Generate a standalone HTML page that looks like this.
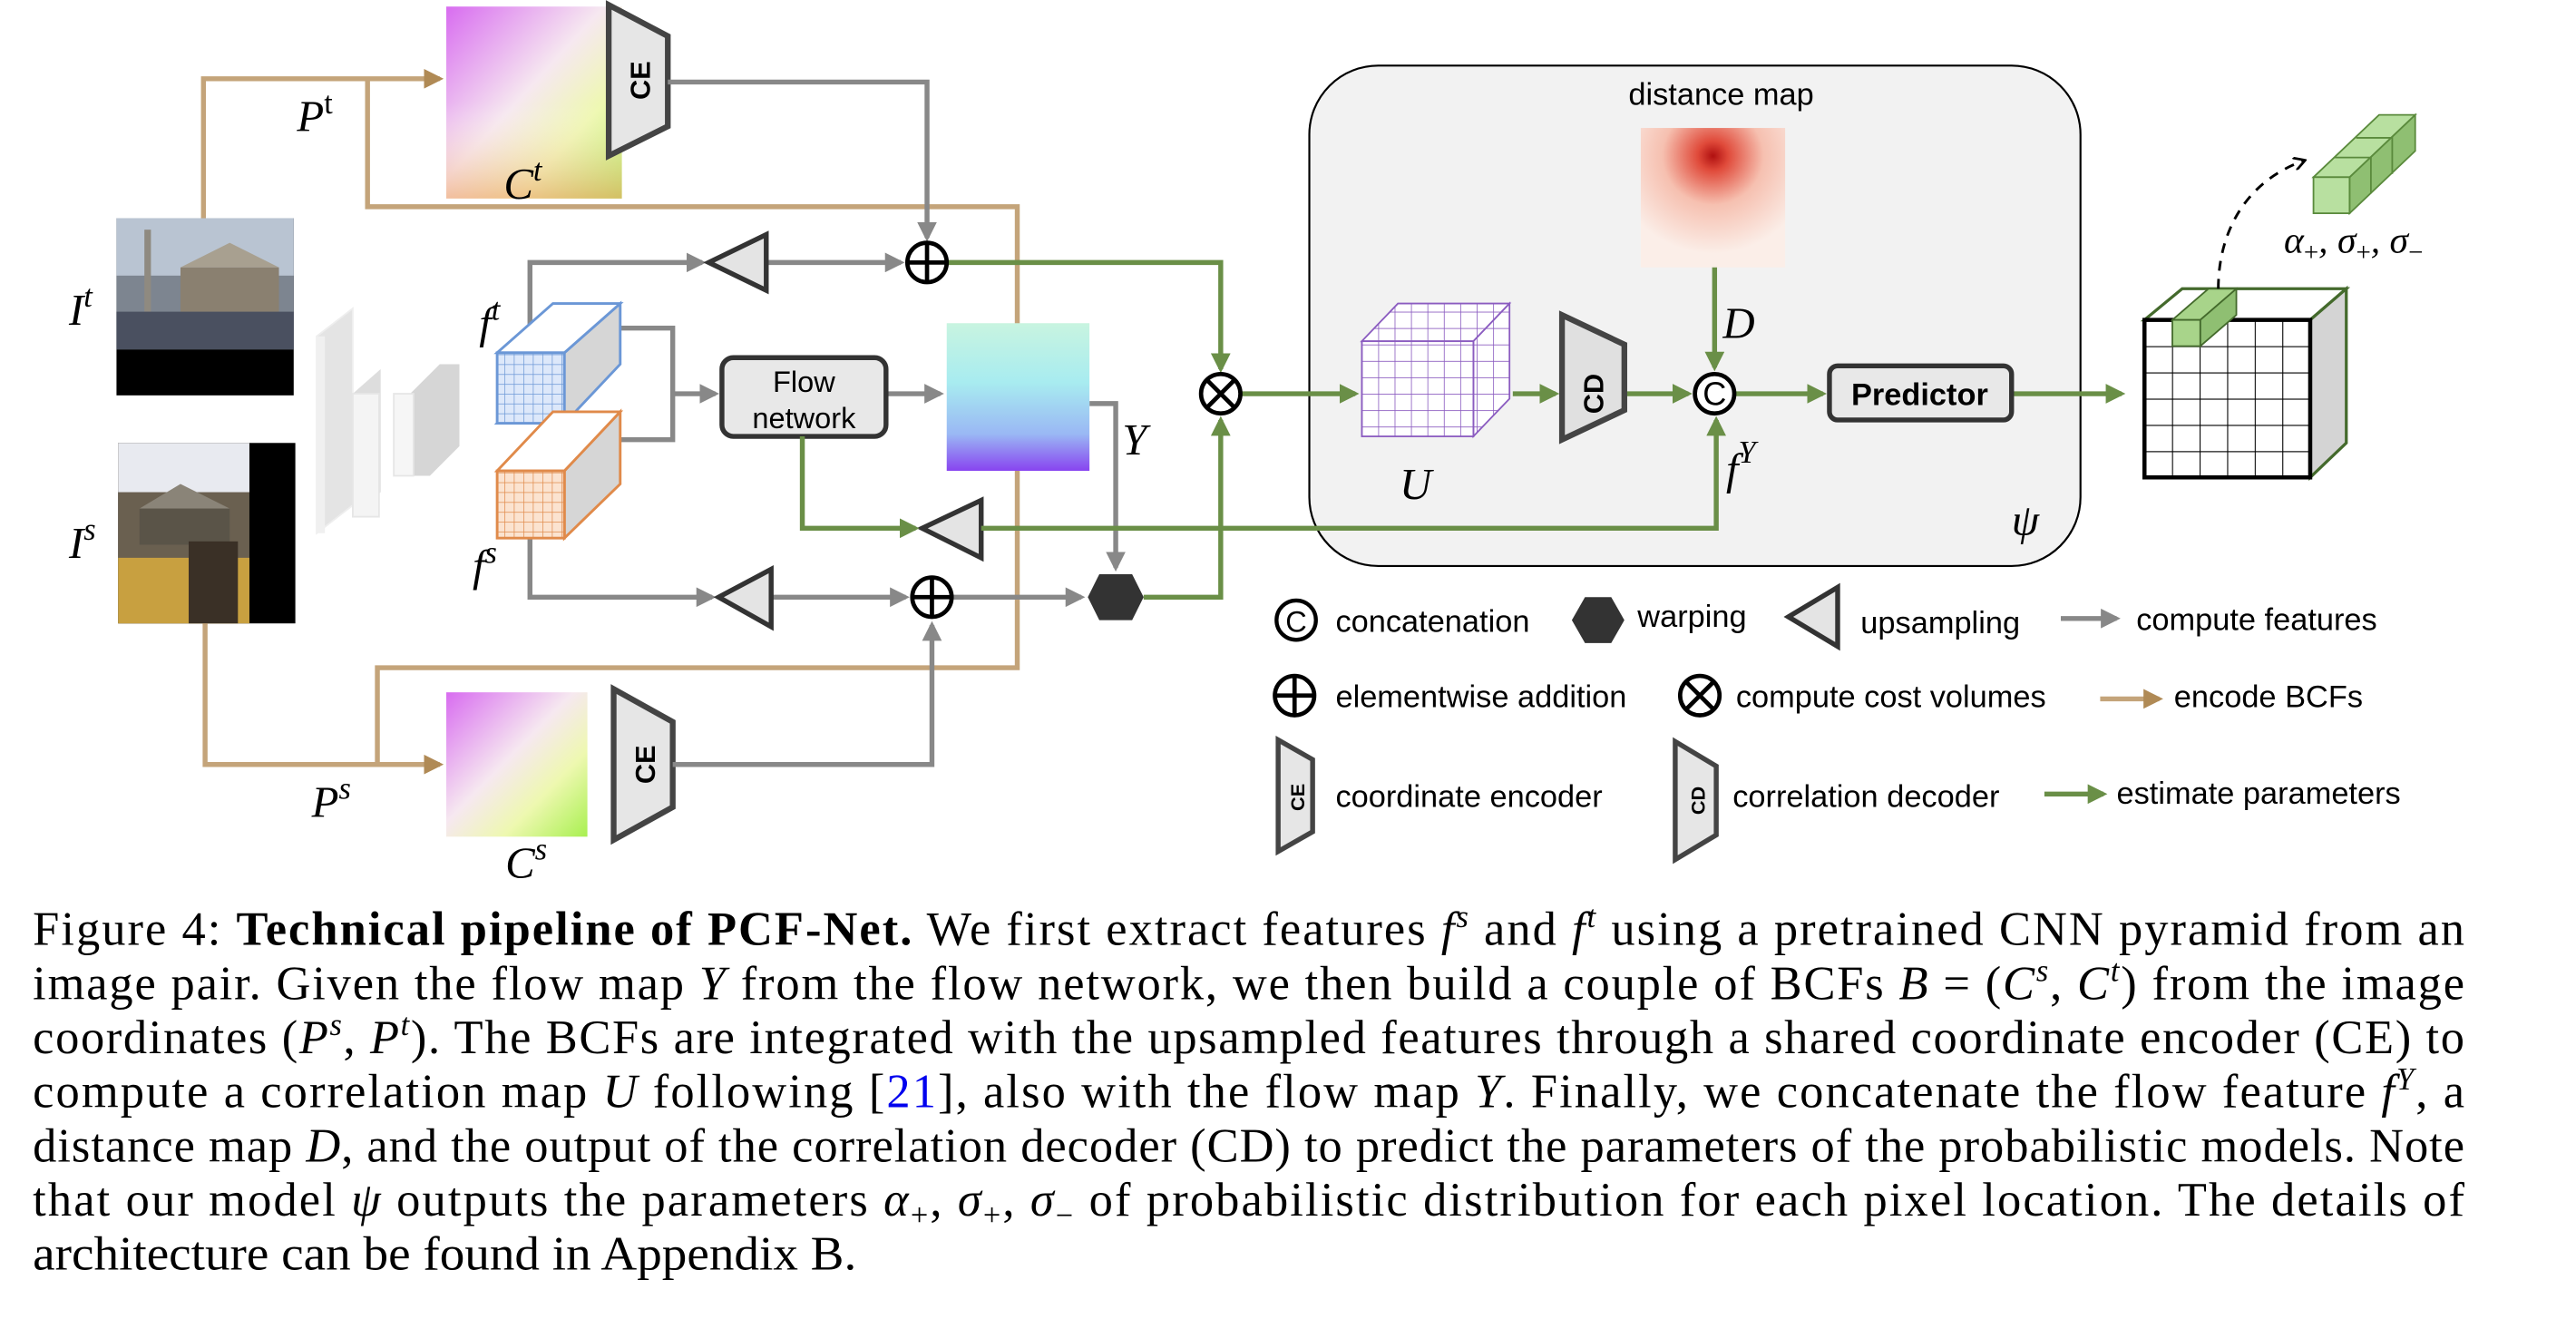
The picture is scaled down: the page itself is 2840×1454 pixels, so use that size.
<!DOCTYPE html>
<html><head><meta charset="utf-8"><style>
html,body{margin:0;padding:0;background:#fff;}
svg{display:block;}
.s{font-family:"Liberation Sans",sans-serif;}
.m{font-family:"Liberation Serif",serif;font-style:italic;}
.cap{font-family:"Liberation Serif",serif;font-size:29px;fill:#000;}
</style></head><body>
<svg width="2840" height="1454" viewBox="0 0 1570 804" preserveAspectRatio="none" xmlns="http://www.w3.org/2000/svg">
<defs>
<marker id="ag" markerWidth="4" markerHeight="4" refX="3.2" refY="2" orient="auto" markerUnits="strokeWidth"><path d="M0,0 L4,2 L0,4 z" fill="#888"/></marker>
<marker id="agr" markerWidth="4" markerHeight="4" refX="3.2" refY="2" orient="auto" markerUnits="strokeWidth"><path d="M0,0 L4,2 L0,4 z" fill="#6a8f47"/></marker>
<marker id="ab" markerWidth="4" markerHeight="4" refX="3.2" refY="2" orient="auto" markerUnits="strokeWidth"><path d="M0,0 L4,2 L0,4 z" fill="#b08a55"/></marker>
<marker id="ak" markerWidth="8" markerHeight="8" refX="6" refY="4" orient="auto" markerUnits="userSpaceOnUse"><path d="M0,0 L7,4 L0,8" fill="none" stroke="#000" stroke-width="1.5"/></marker>
<linearGradient id="gc1" x1="0" y1="0" x2="1" y2="1"><stop offset="0" stop-color="#d86cf0"/><stop offset="0.45" stop-color="#f6e8f0"/><stop offset="0.7" stop-color="#eef8b0"/><stop offset="1" stop-color="#a8f050"/></linearGradient>
<linearGradient id="gc1b" x1="0" y1="1" x2="0" y2="0"><stop offset="0" stop-color="#f0a070" stop-opacity="0.6"/><stop offset="0.5" stop-color="#fff" stop-opacity="0"/></linearGradient>
<linearGradient id="gf" x1="0" y1="0" x2="0" y2="1"><stop offset="0" stop-color="#c8f4e0"/><stop offset="0.4" stop-color="#a8ecf0"/><stop offset="0.75" stop-color="#9ab8f4"/><stop offset="1" stop-color="#8844f0"/></linearGradient>
<radialGradient id="gd" cx="0.5" cy="0.2" r="0.7"><stop offset="0" stop-color="#b01010"/><stop offset="0.15" stop-color="#e04a3a"/><stop offset="0.5" stop-color="#f6c0b0"/><stop offset="1" stop-color="#fbeee8"/></radialGradient>
<pattern id="pb" width="5.8" height="6" patternUnits="userSpaceOnUse"><rect width="5.8" height="6" fill="#dde8fa"/><path d="M0,0 H5.8 M0,0 V6" stroke="#6b97d6" stroke-width="0.8"/></pattern>
<pattern id="po" width="5.8" height="6" patternUnits="userSpaceOnUse"><rect width="5.8" height="6" fill="#fbe3d0"/><path d="M0,0 H5.8 M0,0 V6" stroke="#e08a4a" stroke-width="0.8"/></pattern>
<pattern id="pu" width="10" height="10" patternUnits="userSpaceOnUse"><rect width="10" height="10" fill="#fff"/><path d="M0,0 H10 M0,0 V10" stroke="#8b5cc0" stroke-width="0.9"/></pattern>
<pattern id="pk" width="16.8" height="16" patternUnits="userSpaceOnUse" x="1307" y="195"><rect width="16.8" height="16" fill="#fff"/><path d="M0,0 H16.8 M0,0 V16" stroke="#000" stroke-width="1.2"/></pattern>
</defs>

<!-- images -->
<rect x="71" y="133" width="108" height="108" fill="#000"/>
<rect x="71" y="133" width="108" height="80" fill="#7d8590"/>
<rect x="71" y="133" width="108" height="35" fill="#b9c4d2"/>
<polygon points="110,163 140,148 170,163" fill="#a8a090"/>
<rect x="110" y="163" width="60" height="28" fill="#8a8070"/>
<rect x="88" y="140" width="4" height="50" fill="#8f8a80"/>
<rect x="71" y="190" width="108" height="23" fill="#4a5060"/>
<rect x="72" y="270" width="108" height="110" fill="#000"/>
<rect x="72" y="270" width="80" height="110" fill="#6a6050"/>
<rect x="72" y="270" width="80" height="30" fill="#e8eaf0"/>
<polygon points="85,310 110,295 140,310" fill="#8a8478"/>
<rect x="85" y="310" width="55" height="22" fill="#5a5448"/>
<rect x="72" y="340" width="80" height="40" fill="#c8a040"/>
<rect x="115" y="330" width="30" height="50" fill="#3a3026"/>

<!-- CNN pyramid -->
<polygon points="193,205 215,188 215,308 193,325" fill="#e4e4e4" stroke="#eee"/>
<rect x="193" y="205" width="5" height="120" fill="#f0f0f0"/>
<polygon points="215,240 232,225 232,300 215,315" fill="#ddd"/>
<rect x="215" y="240" width="16" height="75" fill="#f4f4f4" stroke="#e6e6e6"/>
<polygon points="250,240 268,222 280,222 280,272 262,290 250,290" fill="#d6d6d6"/>
<rect x="240" y="240" width="12" height="50" fill="#f6f6f6" stroke="#e6e6e6"/>

<!-- brown BCF lines -->
<g fill="none" stroke="#c4a47a" stroke-width="3">
<path d="M124,133 V48 H268" marker-end="url(#ab)"/>
<path d="M224,48 V126 H620 V407 H230 V466"/>
<path d="M125,380 V466 H268" marker-end="url(#ab)"/>
</g>

<!-- Ct, Cs -->
<rect x="272" y="4" width="107" height="117" fill="url(#gc1)"/>
<rect x="272" y="4" width="107" height="117" fill="url(#gc1b)"/>
<rect x="272" y="422" width="86" height="88" fill="url(#gc1)"/>
<polygon points="371,3 407,22 407,77 371,95" fill="#e6e6e6" stroke="#444" stroke-width="3.5"/>
<text class="s" font-weight="bold" font-size="17" transform="translate(396,49) rotate(-90)" text-anchor="middle">CE</text>
<polygon points="374,420 410,440 410,492 374,512" fill="#e6e6e6" stroke="#444" stroke-width="3.5"/>
<text class="s" font-weight="bold" font-size="17" transform="translate(399,466) rotate(-90)" text-anchor="middle">CE</text>

<!-- gray lines -->
<g fill="none" stroke="#888" stroke-width="3">
<path d="M407,50 H565 V145" marker-end="url(#ag)"/>
<path d="M410,466 H568 V381" marker-end="url(#ag)"/>
<path d="M323,230 V160 H428" marker-end="url(#ag)"/>
<path d="M468,160 H549" marker-end="url(#ag)"/>
<path d="M323,328 V364 H434" marker-end="url(#ag)"/>
<path d="M470,364 H552" marker-end="url(#ag)"/>
<path d="M378,200 H410 V268 H378"/>
<path d="M410,240 H436" marker-end="url(#ag)"/>
<path d="M540,240 H573" marker-end="url(#ag)"/>
<path d="M664,246 H680 V346" marker-end="url(#ag)"/>
<path d="M580,364 H659" marker-end="url(#ag)"/>
</g>

<!-- triangles -->
<polygon points="432,160 467,143 467,177" fill="#e4e4e4" stroke="#333" stroke-width="3"/>
<polygon points="438,364 470,347 470,382" fill="#e4e4e4" stroke="#333" stroke-width="3"/>
<polygon points="562,322 598,305 598,340" fill="#e4e4e4" stroke="#333" stroke-width="3"/>

<!-- feature boxes -->
<polygon points="303,258 344,258 378,222 378,185 344,215" fill="#d6d6d6" stroke="#6b97d6" stroke-width="1.6"/>
<polygon points="303,215 337,185 378,185 344,215" fill="#fff" stroke="#6b97d6" stroke-width="1.6"/>
<rect x="303" y="215" width="41" height="43" fill="url(#pb)" stroke="#6b97d6" stroke-width="1.6"/>
<polygon points="344,287 378,251 378,295 344,328" fill="#d6d6d6" stroke="#e08a4a" stroke-width="1.6"/>
<polygon points="303,287 337,251 378,251 344,287" fill="#fff" stroke="#e08a4a" stroke-width="1.6"/>
<rect x="303" y="287" width="41" height="41" fill="url(#po)" stroke="#e08a4a" stroke-width="1.6"/>

<!-- Flow network -->
<rect x="440" y="218" width="100" height="48" rx="7" fill="#e8e8e8" stroke="#333" stroke-width="3"/>
<text class="s" font-size="18" x="490" y="239" text-anchor="middle">Flow</text>
<text class="s" font-size="18" x="490" y="261" text-anchor="middle">network</text>
<rect x="577" y="197" width="87" height="90" fill="url(#gf)"/>

<!-- green lines -->
<g fill="none" stroke="#6a8f47" stroke-width="3">
<path d="M577,160 H744 V225" marker-end="url(#agr)"/>
<path d="M697,364 H744 V256" marker-end="url(#agr)"/>
<path d="M489,266 V322 H558" marker-end="url(#agr)"/>
</g>

<!-- psi box -->
<rect x="798" y="40" width="470" height="305" rx="42" fill="#f2f2f2" stroke="#000" stroke-width="1.2"/>
<path d="M598,322 H1046 V256" fill="none" stroke="#6a8f47" stroke-width="3" marker-end="url(#agr)"/>
<text class="s" font-size="19" x="1049" y="64" text-anchor="middle">distance map</text>
<rect x="1000" y="78" width="88" height="85" fill="url(#gd)"/>
<g fill="none" stroke="#6a8f47" stroke-width="3">
<path d="M1045,163 V224" marker-end="url(#agr)"/>
<path d="M756,240 H826" marker-end="url(#agr)"/>
<path d="M922,240 H948" marker-end="url(#agr)"/>
<path d="M990,240 H1029" marker-end="url(#agr)"/>
<path d="M1058,240 H1111" marker-end="url(#agr)"/>
<path d="M1226,240 H1293" marker-end="url(#agr)"/>
</g>
<!-- U cube -->
<polygon points="830,208 852,185 920,185 898,208" fill="url(#pu)" stroke="#8b5cc0" stroke-width="1"/>
<polygon points="898,208 920,185 920,243 898,266" fill="url(#pu)" stroke="#8b5cc0" stroke-width="1"/>
<rect x="830" y="208" width="68" height="58" fill="url(#pu)" stroke="#8b5cc0" stroke-width="1"/>
<polygon points="952,192 990,210 990,250 952,268" fill="#e0e0e0" stroke="#444" stroke-width="3.5"/>
<text class="s" font-weight="bold" font-size="17" transform="translate(977,240) rotate(-90)" text-anchor="middle">CD</text>
<rect x="1115" y="223" width="111" height="33" rx="5" fill="#e8e8e8" stroke="#333" stroke-width="3"/>
<text class="s" font-weight="bold" font-size="19" x="1170" y="247" text-anchor="middle">Predictor</text>

<!-- circles -->
<g fill="#fff" stroke="#000" stroke-width="2.6">
<circle cx="565" cy="160" r="12"/><path d="M553,160 H577 M565,148 V172"/>
<circle cx="568" cy="364" r="12"/><path d="M556,364 H580 M568,352 V376"/>
<circle cx="744" cy="240" r="12"/><path d="M735.5,231.5 L752.5,248.5 M752.5,231.5 L735.5,248.5"/>
<circle cx="1045" cy="240" r="12"/>
</g>
<text class="s" font-size="20" x="1045" y="247" text-anchor="middle">C</text>
<polygon points="663,364 670,350 690,350 697,364 690,378 670,378" fill="#333"/>

<!-- output cube -->
<polygon points="1307,195 1330,176 1430,176 1408,195" fill="#fff" stroke="#446a2c" stroke-width="1.8"/>
<polygon points="1408,195 1430,176 1430,270 1408,291" fill="#d4d4d4" stroke="#446a2c" stroke-width="1.8"/>
<rect x="1307" y="195" width="101" height="96" fill="url(#pk)" stroke="#000" stroke-width="2.5"/>
<polygon points="1324,195 1346,176 1363,176 1341,195" fill="#a8d48a" stroke="#446a2c"/>
<polygon points="1341,195 1363,176 1363,192 1341,211" fill="#8fbf72" stroke="#446a2c"/>
<rect x="1324" y="195" width="17" height="16" fill="#a8d48a" stroke="#446a2c"/>
<path d="M1352,176 C1352,140 1370,110 1404,98" fill="none" stroke="#000" stroke-width="1.6" stroke-dasharray="6,5" marker-end="url(#ak)"/>
<!-- green stack -->
<polygon points="1432,108 1472,70 1472,92 1432,130" fill="#8fbf72" stroke="#5a8a3c"/>
<polygon points="1410,108 1450,70 1472,70 1432,108" fill="#b8e0a0" stroke="#5a8a3c"/>
<rect x="1410" y="108" width="22" height="22" fill="#b8e0a0" stroke="#5a8a3c"/>
<path d="M1423,96 L1445,96 L1445,118 M1436,84 L1458,84 L1458,106" fill="none" stroke="#5a8a3c"/>

<!-- math labels -->
<g class="m" font-size="27" fill="#000">
<text x="181" y="80">P<tspan font-size="19" dy="-11" font-style="normal">t</tspan></text>
<text x="307" y="121">C<tspan font-size="19" dy="-11">t</tspan></text>
<text x="42" y="198">I<tspan font-size="19" dy="-11">t</tspan></text>
<text x="42" y="340">I<tspan font-size="19" dy="-11">s</tspan></text>
<text x="292" y="206">f<tspan font-size="19" dy="-11">t</tspan></text>
<text x="288" y="354">f<tspan font-size="19" dy="-11">s</tspan></text>
<text x="190" y="498">P<tspan font-size="19" dy="-11">s</tspan></text>
<text x="308" y="535">C<tspan font-size="19" dy="-11">s</tspan></text>
<text x="684" y="277">Y</text>
<text x="853" y="304">U</text>
<text x="1050" y="206">D</text>
<text x="1052" y="295">f<tspan font-size="19" dy="-13">Y</tspan></text>
<text x="1226" y="326">ψ</text>
<text x="1392" y="154" font-size="23">α<tspan font-size="16" dy="5" font-style="normal">+</tspan><tspan dy="-5">, σ</tspan><tspan font-size="16" dy="5" font-style="normal">+</tspan><tspan dy="-5">, σ</tspan><tspan font-size="16" dy="5" font-style="normal">−</tspan></text>
</g>

<!-- legend -->
<g class="s" font-size="19" fill="#000">
<circle cx="790" cy="378" r="12" fill="none" stroke="#000" stroke-width="2.4"/>
<text x="790" y="385" text-anchor="middle" font-size="18">C</text>
<text x="814" y="385">concatenation</text>
<polygon points="958,378 966,364 982,364 990,378 982,392 966,392" fill="#333"/>
<text x="998" y="382">warping</text>
<polygon points="1090,376 1120,358 1120,394" fill="#e4e4e4" stroke="#333" stroke-width="3"/>
<text x="1134" y="386">upsampling</text>
<path d="M1256,377 H1290" stroke="#888" stroke-width="3" marker-end="url(#ag)"/>
<text x="1302" y="384">compute features</text>
<circle cx="789" cy="424" r="12" fill="none" stroke="#000" stroke-width="2.6"/>
<path d="M777,424 H801 M789,412 V436" stroke="#000" stroke-width="2.6"/>
<text x="814" y="431">elementwise addition</text>
<circle cx="1036" cy="424" r="12" fill="none" stroke="#000" stroke-width="2.6"/>
<path d="M1027.5,415.5 L1044.5,432.5 M1044.5,415.5 L1027.5,432.5" stroke="#000" stroke-width="2.6"/>
<text x="1058" y="431">compute cost volumes</text>
<path d="M1280,426 H1316" stroke="#c4a47a" stroke-width="3" marker-end="url(#ab)"/>
<text x="1325" y="431">encode BCFs</text>
<polygon points="779,451 800,463 800,507 779,519" fill="#e6e6e6" stroke="#444" stroke-width="3"/>
<text font-weight="bold" font-size="12" transform="translate(795,486) rotate(-90)" text-anchor="middle">CE</text>
<text x="814" y="492">coordinate encoder</text>
<polygon points="1021,452 1046,467 1046,509 1021,524" fill="#e6e6e6" stroke="#444" stroke-width="3"/>
<text font-weight="bold" font-size="12" transform="translate(1039,488) rotate(-90)" text-anchor="middle">CD</text>
<text x="1056" y="492">correlation decoder</text>
<path d="M1246,484 H1282" stroke="#6a8f47" stroke-width="3" marker-end="url(#agr)"/>
<text x="1290" y="490">estimate parameters</text>
</g>

<!-- caption -->
<g class="cap">
<text x="20" y="576" textLength="1482" lengthAdjust="spacing">Figure 4: <tspan font-weight="bold">Technical pipeline of PCF-Net.</tspan> We first extract features <tspan font-style="italic">f</tspan><tspan font-style="italic" font-size="19" dy="-11">s</tspan><tspan dy="11"> and </tspan><tspan font-style="italic">f</tspan><tspan font-style="italic" font-size="19" dy="-11">t</tspan><tspan dy="11"> using a pretrained CNN pyramid from an</tspan></text>
<text x="20" y="609" textLength="1482" lengthAdjust="spacing">image pair. Given the flow map <tspan font-style="italic">Y</tspan> from the flow network, we then build a couple of BCFs <tspan font-style="italic">B</tspan> = (<tspan font-style="italic">C</tspan><tspan font-style="italic" font-size="19" dy="-11">s</tspan><tspan dy="11">, </tspan><tspan font-style="italic">C</tspan><tspan font-style="italic" font-size="19" dy="-11">t</tspan><tspan dy="11">) from the image</tspan></text>
<text x="20" y="642" textLength="1482" lengthAdjust="spacing">coordinates (<tspan font-style="italic">P</tspan><tspan font-style="italic" font-size="19" dy="-11">s</tspan><tspan dy="11">, </tspan><tspan font-style="italic">P</tspan><tspan font-style="italic" font-size="19" dy="-11">t</tspan><tspan dy="11">). The BCFs are integrated with the upsampled features through a shared coordinate encoder (CE) to</tspan></text>
<text x="20" y="675" textLength="1482" lengthAdjust="spacing">compute a correlation map <tspan font-style="italic">U</tspan> following [<tspan fill="#0000ee">21</tspan>], also with the flow map <tspan font-style="italic">Y</tspan>. Finally, we concatenate the flow feature <tspan font-style="italic">f</tspan><tspan font-style="italic" font-size="19" dy="-11">Y</tspan><tspan dy="11">, a</tspan></text>
<text x="20" y="708" textLength="1482" lengthAdjust="spacing">distance map <tspan font-style="italic">D</tspan>, and the output of the correlation decoder (CD) to predict the parameters of the probabilistic models. Note</text>
<text x="20" y="741" textLength="1482" lengthAdjust="spacing">that our model <tspan font-style="italic">ψ</tspan> outputs the parameters <tspan font-style="italic">α</tspan><tspan font-size="19" dy="6">+</tspan><tspan dy="-6">, </tspan><tspan font-style="italic">σ</tspan><tspan font-size="19" dy="6">+</tspan><tspan dy="-6">, </tspan><tspan font-style="italic">σ</tspan><tspan font-size="19" dy="6">−</tspan><tspan dy="-6"> of probabilistic distribution for each pixel location. The details of</tspan></text>
<text x="20" y="774" textLength="502" lengthAdjust="spacingAndGlyphs">architecture can be found in Appendix B.</text>
</g>
</svg>
</body></html>
